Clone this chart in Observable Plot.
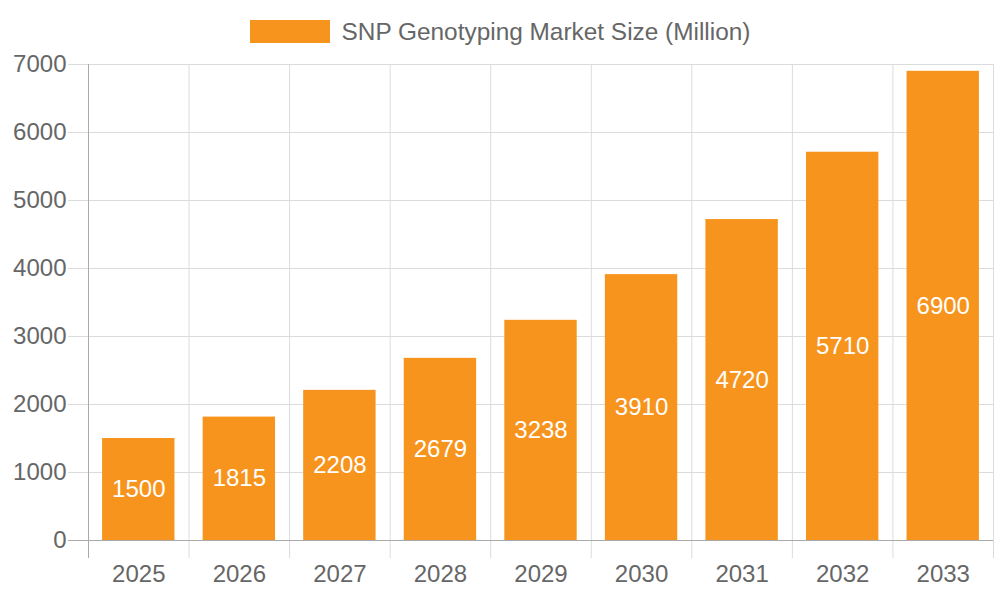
<!DOCTYPE html>
<html>
<head>
<meta charset="utf-8">
<script src="https://cdn.jsdelivr.net/npm/d3@7"></script>
<script src="https://cdn.jsdelivr.net/npm/@observablehq/plot@0.6"></script>
<style>
  html, body { margin: 0; padding: 0; background: white; }
  body { width: 1000px; height: 600px; overflow: hidden; font-family: "Liberation Sans", Arial, sans-serif; }
  #legend { height: 44px; box-sizing: border-box; padding-top: 20px; display: flex; justify-content: center; align-items: flex-start; }
  #legend .swatch { width: 80px; height: 23px; margin-right: 12px; }
  #legend .label { font-size: 24.4px; color: #666; line-height: 23px; }
  svg { display: block; }
</style>
</head>
<body>
<div id="legend"></div>
<div id="chart"></div>
<script>
const years = [2025, 2026, 2027, 2028, 2029, 2030, 2031, 2032, 2033];
const values = [1500, 1815, 2208, 2679, 3238, 3910, 4720, 5710, 6900];
const yTicks = [0, 1000, 2000, 3000, 4000, 5000, 6000, 7000];
const seriesLabel = "SNP Genotyping Market Size (Million)";
const barColor = "#f7941d";

const data = years.map((y, i) => ({ year: y, value: values[i] }));
const boundaries = [years[0] - 0.5, ...years.map(y => y + 0.5)];

const legend = document.getElementById("legend");
legend.innerHTML = `<div class="swatch" style="background:${barColor}"></div><div class="label">${seriesLabel}</div>`;

const gridColor = "#dcdcdc";
const axisColor = "#aaa";

const chart = Plot.plot({
  width: 1000,
  height: 556,
  marginTop: 20,
  marginBottom: 60,
  marginLeft: 88,
  marginRight: 7,
  x: { type: "linear", domain: [boundaries[0], boundaries[boundaries.length - 1]] },
  y: { domain: [0, 7000] },
  style: { fontFamily: "Liberation Sans, Arial, sans-serif", fontSize: "24px", color: "#666", background: "white", overflow: "visible" },
  marks: [
    Plot.gridY(yTicks, { stroke: gridColor, strokeOpacity: 1 }),
    Plot.axisY(yTicks, { tickSize: 20, tickPadding: 2, stroke: gridColor, strokeOpacity: 1, fill: "#666", fontSize: 24, label: null, tickFormat: d => String(d) }),
    Plot.ruleX(boundaries.slice(1), { y1: 0, y2: 7000, stroke: gridColor, strokeOpacity: 1 }),
    Plot.axisX(boundaries.slice(1), { tickSize: 18, tickFormat: () => "", stroke: gridColor, strokeOpacity: 1, label: null }),
    Plot.rectY(data, { x1: d => d.year - 0.36, x2: d => d.year + 0.36, y: "value", fill: barColor }),
    Plot.ruleY([0], { stroke: axisColor }),
    Plot.axisY([0], { tickSize: 20, tickFormat: () => "", stroke: axisColor, strokeOpacity: 1, label: null }),
    Plot.ruleX([boundaries[0]], { y1: 0, y2: 7000, stroke: axisColor }),
    Plot.axisX([boundaries[0]], { tickSize: 18, tickFormat: () => "", stroke: axisColor, strokeOpacity: 1, label: null }),
    Plot.text(data, { x: "year", y: d => d.value / 2, text: d => String(d.value), fill: "white", fontSize: 24 }),
    Plot.axisX(years, { tickSize: 0, tickPadding: 24, tickFormat: d => String(d), fill: "#666", fontSize: 24, label: null })
  ]
});
document.getElementById("chart").appendChild(chart);
</script>
</body>
</html>
